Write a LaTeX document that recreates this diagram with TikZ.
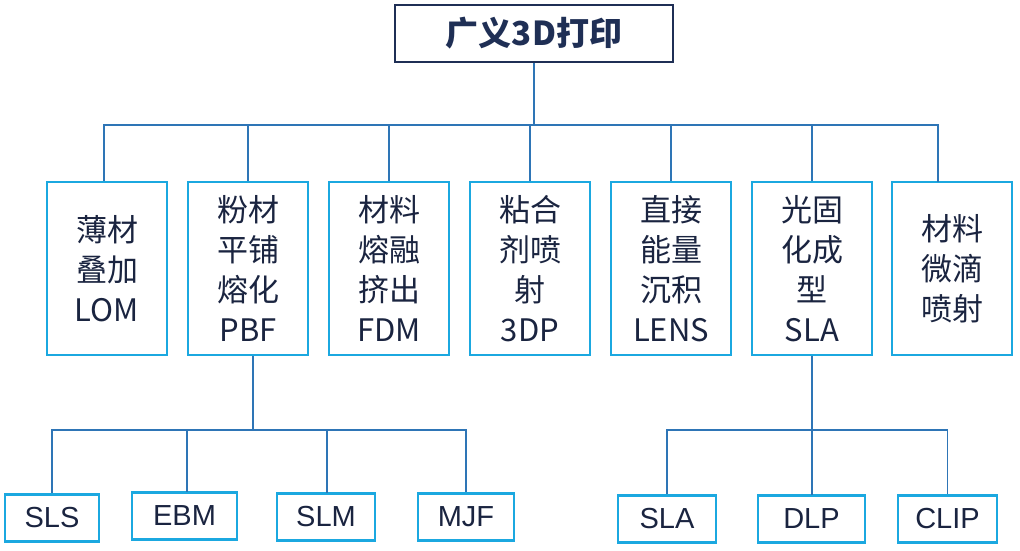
\documentclass[tikz,border=0pt]{standalone}
\usepackage{fontspec}
\setmainfont{Liberation Sans}
\newfontfamily\cjk{Noto Sans CJK SC}
\begin{document}
\begin{tikzpicture}[x=1pt,y=-1pt,
 ln/.style={draw=lnc,line width=1.8pt},
 bx/.style={draw=bxc,line width=2.8pt,fill=white,inner sep=0pt,align=center,text=txc,font=\cjk\fontsize{31}{40}\selectfont},
 sb/.style={bx,minimum height=47pt,font=\fontsize{29}{30}\selectfont}]
\definecolor{lnc}{HTML}{2E75B6}
\definecolor{bxc}{HTML}{1BA8E0}
\definecolor{txc}{HTML}{1A2440}
\definecolor{ttc}{HTML}{1F2F55}
\useasboundingbox[fill=white] (0,0) rectangle (1020,550);
\node[draw=ttc,line width=2.8pt,minimum width=278pt,minimum height=57pt,text=ttc,font=\cjk\bfseries\fontsize{33}{36}\selectfont] (top) at (534,33.5) {广义3D打印};
\coordinate (h) at (534,125);
\foreach \n/\x/\t in {a/107/{薄材\\叠加\\LOM},b/248/{粉材\\平铺\\熔化\\PBF},c/389/{材料\\熔融\\挤出\\FDM},d/530/{粘合\\剂喷\\射\\3DP},e/671/{直接\\能量\\沉积\\LENS},f/812/{光固\\化成\\型\\SLA},g/952/{材料\\微滴\\喷射}}
  \node[bx,minimum width=120pt,minimum height=173pt] (\n) at (\x,268.5) {\t};
\coordinate (gd) at (938,182);
\draw[ln] (top.south) -- (h);
\draw[ln] ([xshift=-3pt]a.north) |- (h) -| (gd);
\foreach \n in {b,c,d,e,f} \draw[ln] (\n.north) -- (\n.north |- h);
\node[sb,minimum width=94pt] (s1) at (52,518) {SLS};
\node[sb,minimum width=105pt] (s2) at (184.5,516) {EBM};
\node[sb,minimum width=98pt] (s3) at (326,517) {SLM};
\node[sb,minimum width=96pt] (s4) at (466,517) {MJF};
\node[sb,minimum width=98pt] (t1) at (667,519) {SLA};
\node[sb,minimum width=107pt] (t2) at (811.5,519) {DLP};
\node[sb,minimum width=99pt] (t3) at (947.5,519) {CLIP};
\coordinate (hb) at (253,430);
\coordinate (hf) at (812,430);
\draw[ln] (b.south -| hb) -- (hb);
\draw[ln] (s1.north) |- (hb) -| (s4.north);
\draw[ln] (187,430) -- (187,492);
\draw[ln] (327,430) -- (327,493);
\draw[ln] (f.south) -- (hf);
\draw[ln] (t1.north) |- (hf) -| (t3.north);
\draw[ln] (812,430) -- (812,495);
\end{tikzpicture}
\end{document}
